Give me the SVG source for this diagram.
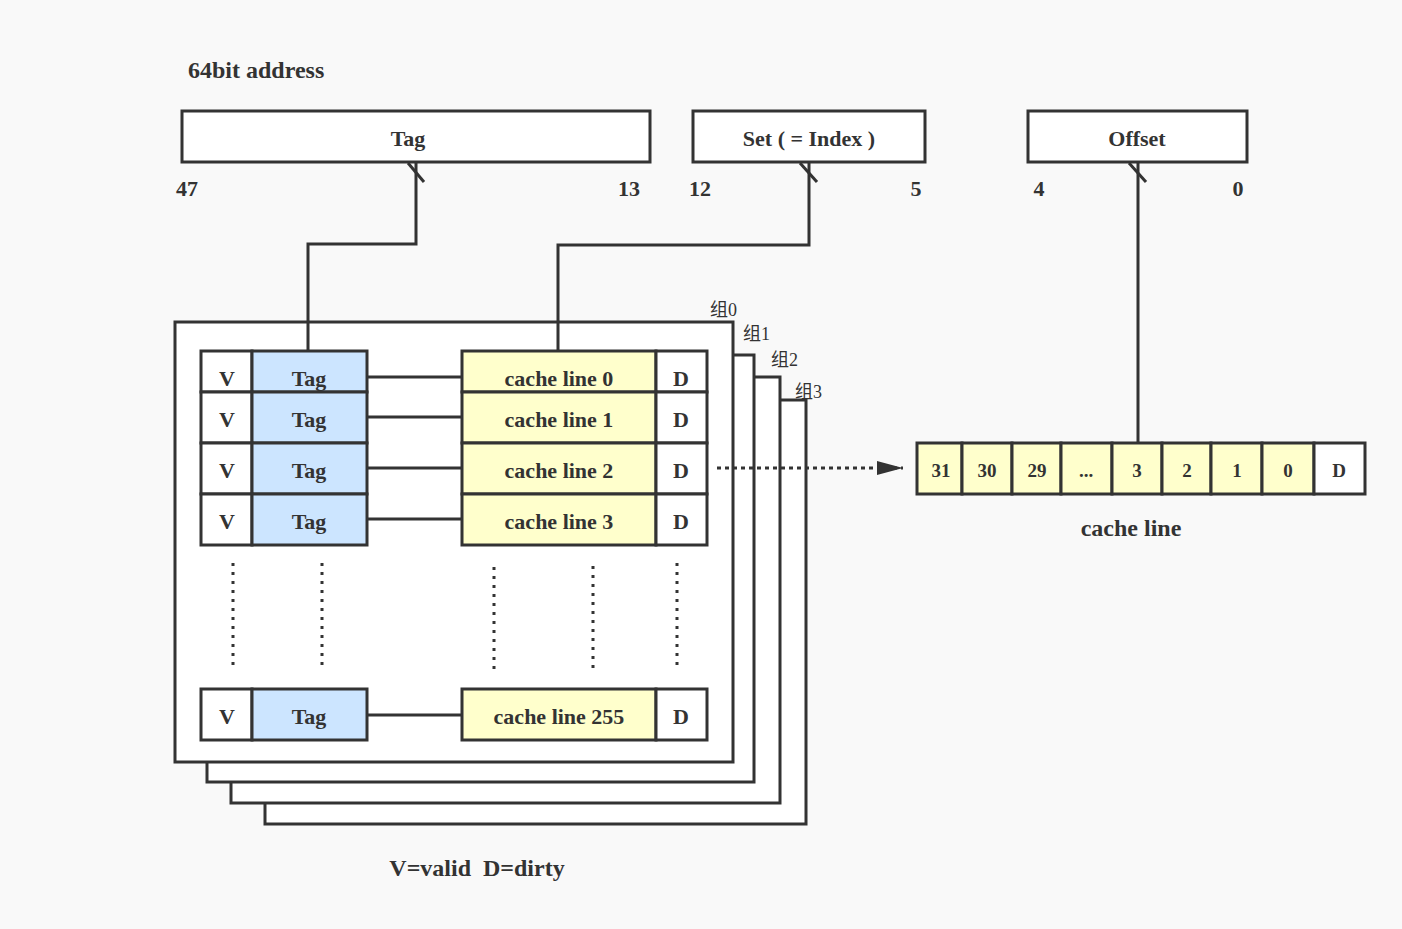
<svg xmlns="http://www.w3.org/2000/svg" width="1402" height="929" viewBox="0 0 1402 929">
<style>
.bg{fill:#f9f9f9}
.box{fill:#ffffff;stroke:#333;stroke-width:3}
.blue{fill:#cce5ff;stroke:#333;stroke-width:3}
.yel{fill:#ffffcc;stroke:#333;stroke-width:3}
.ln{fill:none;stroke:#333;stroke-width:3}
.dot{fill:none;stroke:#333;stroke-width:3;stroke-dasharray:3 6}
.dash{fill:none;stroke:#333;stroke-width:3;stroke-dasharray:4 4}
text{font-family:"Liberation Serif","Times New Roman",serif;font-weight:bold;fill:#333;text-anchor:middle}
.t22{font-size:22px}
.t24{font-size:24px}
.t19{font-size:19px}
.cn{font-family:"Liberation Serif","Noto Sans CJK SC",serif;font-weight:normal;font-size:18px;text-anchor:start}
.st{text-anchor:start}
</style>
<defs>
<marker id="arr" markerUnits="userSpaceOnUse" markerWidth="26" markerHeight="16" refX="26" refY="7.5" orient="auto">
<path d="M0,0.5 L26,7.5 L0,14.5 z" fill="#333"/>
</marker>
</defs>
<rect class="bg" x="0" y="0" width="1402" height="929"/>

<text id="title" class="t24 st" x="188" y="78">64bit address</text>

<g id="addr-tag">
<rect class="box" x="182" y="111" width="468" height="51"/>
<text class="t22" x="408" y="146">Tag</text>
<text class="t22 st" x="176" y="196">47</text>
<text class="t22" x="629" y="196">13</text>
</g>
<g id="addr-set">
<rect class="box" x="693" y="111" width="232" height="51"/>
<text class="t22" x="809" y="146">Set ( = Index )</text>
<text class="t22" x="700" y="196">12</text>
<text class="t22" x="916" y="196">5</text>
</g>
<g id="addr-offset">
<rect class="box" x="1028" y="111" width="219" height="51"/>
<text class="t22" x="1137" y="146">Offset</text>
<text class="t22" x="1039" y="196">4</text>
<text class="t22" x="1238" y="196">0</text>
</g>

<g id="set3">
<rect class="box" x="265" y="400" width="541" height="424"/>
<text class="cn" x="795" y="398">组3</text>
</g>
<g id="set2">
<rect class="box" x="231" y="377" width="549" height="426"/>
<text class="cn" x="771" y="366">组2</text>
</g>
<g id="set1">
<rect class="box" x="207" y="355" width="547" height="427"/>
<text class="cn" x="743" y="340">组1</text>
</g>
<g id="set0">
<rect class="box" x="175" y="322" width="558" height="440"/>
<text class="cn" x="710" y="316">组0</text>
</g>

<g id="row0">
<rect class="box" x="201" y="351" width="51" height="41"/>
<rect class="blue" x="252" y="351" width="115" height="41"/>
<rect class="yel" x="462" y="351" width="194" height="41"/>
<rect class="box" x="656" y="351" width="51" height="41"/>
<text class="t22" x="227" y="386">V</text>
<text class="t22" x="309" y="386">Tag</text>
<text class="t22" x="559" y="386">cache line 0</text>
<text class="t22" x="681" y="386">D</text>
</g>
<g id="row1">
<rect class="box" x="201" y="392" width="51" height="51"/>
<rect class="blue" x="252" y="392" width="115" height="51"/>
<rect class="yel" x="462" y="392" width="194" height="51"/>
<rect class="box" x="656" y="392" width="51" height="51"/>
<text class="t22" x="227" y="427">V</text>
<text class="t22" x="309" y="427">Tag</text>
<text class="t22" x="559" y="427">cache line 1</text>
<text class="t22" x="681" y="427">D</text>
</g>
<g id="row2">
<rect class="box" x="201" y="443" width="51" height="51"/>
<rect class="blue" x="252" y="443" width="115" height="51"/>
<rect class="yel" x="462" y="443" width="194" height="51"/>
<rect class="box" x="656" y="443" width="51" height="51"/>
<text class="t22" x="227" y="478">V</text>
<text class="t22" x="309" y="478">Tag</text>
<text class="t22" x="559" y="478">cache line 2</text>
<text class="t22" x="681" y="478">D</text>
</g>
<g id="row3">
<rect class="box" x="201" y="494" width="51" height="51"/>
<rect class="blue" x="252" y="494" width="115" height="51"/>
<rect class="yel" x="462" y="494" width="194" height="51"/>
<rect class="box" x="656" y="494" width="51" height="51"/>
<text class="t22" x="227" y="529">V</text>
<text class="t22" x="309" y="529">Tag</text>
<text class="t22" x="559" y="529">cache line 3</text>
<text class="t22" x="681" y="529">D</text>
</g>
<g id="row255">
<rect class="box" x="201" y="689" width="51" height="51"/>
<rect class="blue" x="252" y="689" width="115" height="51"/>
<rect class="yel" x="462" y="689" width="194" height="51"/>
<rect class="box" x="656" y="689" width="51" height="51"/>
<text class="t22" x="227" y="724">V</text>
<text class="t22" x="309" y="724">Tag</text>
<text class="t22" x="559" y="724">cache line 255</text>
<text class="t22" x="681" y="724">D</text>
</g>

<g id="cacheline">
<rect class="yel" x="917" y="443" width="45" height="51"/>
<rect class="yel" x="962" y="443" width="50" height="51"/>
<rect class="yel" x="1012" y="443" width="49" height="51"/>
<rect class="yel" x="1061" y="443" width="51" height="51"/>
<rect class="yel" x="1112" y="443" width="50" height="51"/>
<rect class="yel" x="1162" y="443" width="49" height="51"/>
<rect class="yel" x="1211" y="443" width="51" height="51"/>
<rect class="yel" x="1262" y="443" width="52" height="51"/>
<rect class="box" x="1314" y="443" width="51" height="51"/>
<text class="t19" x="941" y="477">31</text>
<text class="t19" x="987" y="477">30</text>
<text class="t19" x="1037" y="477">29</text>
<text class="t19" x="1086" y="477">...</text>
<text class="t19" x="1137" y="477">3</text>
<text class="t19" x="1187" y="477">2</text>
<text class="t19" x="1237" y="477">1</text>
<text class="t19" x="1288" y="477">0</text>
<text class="t19" x="1339" y="477">D</text>
<text class="t24" x="1131" y="536">cache line</text>
</g>

<g id="connectors">
<path class="ln" d="M416 162 V244 H308 V351"/>
<path class="ln" d="M408 163 L424 182"/>
<path class="ln" d="M809 162 V245 H558 V351"/>
<path class="ln" d="M800 163 L817 182"/>
<path class="ln" d="M1138 162 V443"/>
<path class="ln" d="M1129 163 L1146 182"/>
<path class="ln" d="M367 377 H462"/>
<path class="ln" d="M367 417 H462"/>
<path class="ln" d="M367 468 H462"/>
<path class="ln" d="M367 519 H462"/>
<path class="ln" d="M367 715 H462"/>
<path class="dot" d="M233 563 V665"/>
<path class="dot" d="M322 563 V665"/>
<path class="dot" d="M494 567 V669"/>
<path class="dot" d="M593 566 V668"/>
<path class="dot" d="M677 563 V665"/>
<path class="dash" d="M717 468 H903" marker-end="url(#arr)"/>
</g>

<text id="legend" class="t24" x="477" y="876" xml:space="preserve">V=valid  D=dirty</text>
</svg>
